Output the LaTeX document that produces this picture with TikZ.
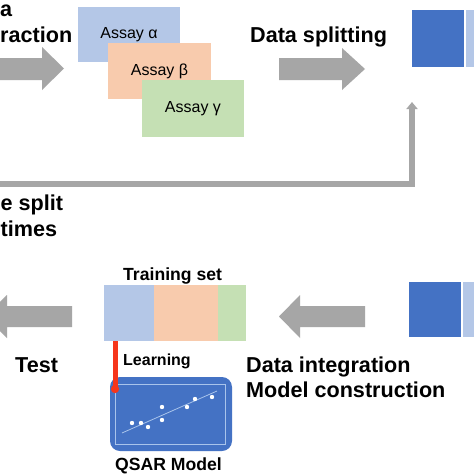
\documentclass[tikz,border=0pt]{standalone}
\usepackage{fontspec}
\setmainfont{Liberation Sans}
\usetikzlibrary{arrows.meta}
\definecolor{dblue}{HTML}{4472C4}
\definecolor{lblue}{HTML}{B4C7E7}
\definecolor{peach}{HTML}{F8CBAD}
\definecolor{lgreen}{HTML}{C5E0B4}
\definecolor{arrgray}{HTML}{A6A6A6}
\definecolor{redline}{HTML}{F6361C}
\definecolor{innerln}{HTML}{A9C4EB}
\tikzset{
  blk/.style={inner sep=0pt, outer sep=0pt, anchor=north west},
  lbl/.style={inner sep=0pt, anchor=base west, font=\bfseries\fontsize{21.6}{26}\selectfont},
  mlbl/.style={inner sep=0pt, anchor=base west, font=\bfseries\fontsize{17.6}{21}\selectfont},
  assay/.style={blk, font=\fontsize{16}{19}\selectfont},
  blockarrow/.style={fill=arrgray, draw=none},
  dot/.style={circle, fill=white, inner sep=0pt, minimum size=4.4pt},
}
\begin{document}
\begin{tikzpicture}[x=1pt,y=-1pt]
\useasboundingbox (0,0) rectangle (474,474);
\clip (0,0) rectangle (474,474);
\fill[white] (0,0) rectangle (474,474);

% top-left texts
\node[lbl] (t1) at (0,16) {a};
\node[lbl] (t2) at (0,42) {raction};

% block arrow 1
\fill[blockarrow] (-10,58) -- (42,58) -- (42,47) -- (64,68.5) -- (42,90) -- (42,80) -- (-10,80) -- cycle;

% assay boxes
\node[assay, fill=lblue, minimum width=102pt, minimum height=55pt] (aa) at (78,7) {};
\node at (aa.center) [font=\fontsize{16}{19}\selectfont] {Assay α};
\node[assay, fill=peach, minimum width=103pt, minimum height=56pt] (ab) at (108,43) {};
\node at (ab.center) [font=\fontsize{16}{19}\selectfont] {Assay β};
\node[assay, fill=lgreen, minimum width=102pt, minimum height=57pt] (ag) at (142,80) {};
\node at (ag.center) [font=\fontsize{16}{19}\selectfont] {Assay γ};

% data splitting
\node[lbl] (ds) at (250,42) {Data splitting};
\fill[blockarrow] (279,58) -- (342,58) -- (342,48) -- (365,69) -- (342,90) -- (342,80) -- (279,80) -- cycle;

% top-right split squares
\node[blk, fill=dblue, minimum width=52pt, minimum height=57pt] (s1) at (412,10) {};
\node[blk, fill=lblue, minimum width=20pt, minimum height=57pt] (s1b) at (466,10) {};

% feedback arrow
\coordinate (fbstart) at (-5,184);
\coordinate (fbtip) at (412,102);
\draw[arrgray, line width=6pt, -{Triangle[width=11pt,length=7pt]}] (fbstart) -| (fbtip);

\node[lbl] (rs1) at (0.5,210) {e split};
\node[lbl] (rs2) at (0.5,236) {times};

% bottom row
\node[mlbl] (ts) at (123,280) {Training set};
\node[blk, fill=lblue, minimum width=50pt, minimum height=56pt] (trA) at (104,285) {};
\node[blk, fill=peach, minimum width=64pt, minimum height=56pt] (trB) at (154,285) {};
\node[blk, fill=lgreen, minimum width=28pt, minimum height=56pt] (trC) at (218,285) {};

\fill[blockarrow] (72,306) -- (7,306) -- (7,295) -- (-15,316.5) -- (7,338) -- (7,327) -- (72,327) -- cycle;
\fill[blockarrow] (365,306) -- (300,306) -- (300,295) -- (279,316.5) -- (300,338) -- (300,327) -- (365,327) -- cycle;

\node[blk, fill=dblue, minimum width=52pt, minimum height=55pt] (s2) at (409,282) {};
\node[blk, fill=lblue, minimum width=20pt, minimum height=55pt] (s2b) at (463,282) {};

\node[lbl] (test) at (15,372) {Test};
\node[inner sep=0pt, anchor=base west, font=\bfseries\fontsize{16}{19}\selectfont] (learn) at (123,365) {Learning};

\node[lbl] (di) at (246,372) {Data integration};
\node[lbl] (mc) at (246,397) {Model construction};

% QSAR model box
\node[blk, fill=dblue, rounded corners=10pt, minimum width=122pt, minimum height=74pt] (qsar) at (110,377) {};
\draw[innerln, line width=0.8pt] (115,384) rectangle (225,444);
\coordinate (rl1) at (122,433);
\coordinate (rl2) at (217,391);
\draw[innerln, line width=0.8pt] (rl1) -- (rl2);
\foreach \p/\q in {132/423, 141/423, 148/427, 162/407, 162/420, 187/407, 195/399, 212/397}
  \node[dot] at (\p,\q) {};
\node[mlbl] (qm) at (115,470) {QSAR Model};

% learning arrow
\coordinate (lstart) at (115,341);
\coordinate (lend) at (115,393);
\draw[redline, line width=5pt, -{Circle[length=8pt,width=8pt]}] (lstart) -- (lend);
\end{tikzpicture}
\end{document}
